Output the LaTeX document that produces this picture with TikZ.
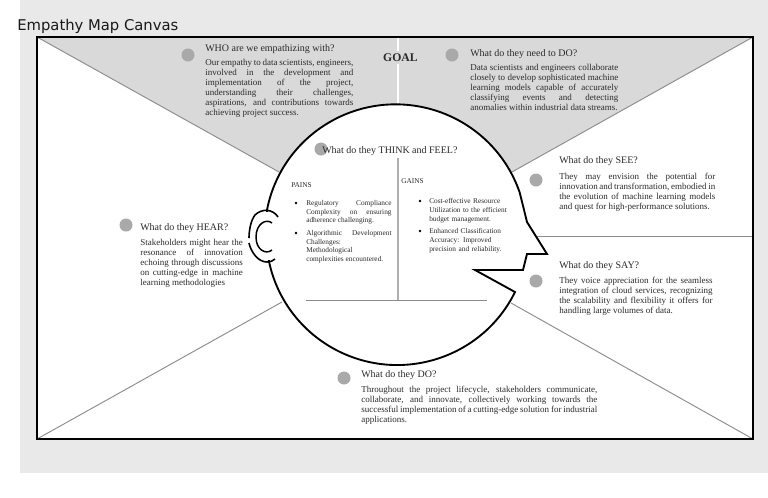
\documentclass[tikz,border=0pt]{standalone}
\usepackage{fontspec}
\setmainfont{Liberation Serif}
\newfontfamily\titlefont{DejaVu Sans}
\definecolor{canvasbg}{HTML}{E9E9E9}
\definecolor{goalgray}{HTML}{D9D9D9}
\definecolor{dotgray}{HTML}{A9A9A9}
\definecolor{linegray}{HTML}{8C8C8C}
\definecolor{inkgray}{HTML}{2A2A2A}
\begin{document}
\begin{tikzpicture}[x=0.75pt,y=-0.75pt]
    \tikzset{
        dot/.style={circle,fill=dotgray,minimum size=9.75pt,inner sep=0pt},
        heading/.style={anchor=west,inner sep=0pt,text=inkgray,font=\fontsize{7.5}{9}\selectfont},
        body/.style={anchor=north west,inner sep=0pt,align=justify,text=inkgray,font=\fontsize{6.75}{7.55}\selectfont\sloppy},
        small/.style={anchor=north west,inner sep=0pt,align=justify,text=inkgray,font=\fontsize{5.5}{6.6}\selectfont\sloppy},
        tick/.style={circle,fill=black,minimum size=2.2pt,inner sep=0pt},
        thin line/.style={draw=linegray,line width=0.7pt},
        outline/.style={draw=black,line width=1.4pt},
    }
    \useasboundingbox (0,0) rectangle (768,497);
    \fill[canvasbg] (20,0) rectangle (768,473);

    \coordinate (tl) at (37,37);
    \coordinate (tr) at (753,37);
    \coordinate (bl) at (37,439);
    \coordinate (br) at (753,439);
    \coordinate (hl) at (279,172);
    \coordinate (hr) at (512,172);
    \coordinate (ll) at (282,302);
    \coordinate (lr) at (511,303);
    \coordinate (mid) at (536,236);
    \coordinate (me) at (753,236);

    \fill[white] (tl) rectangle (br);
    \fill[goalgray] (tl) -- (tr) -- (hr) -- (398,120) -- (hl) -- cycle;
    \draw[white,line width=0.9pt] (398,37) -- (398,110);
    \draw[thin line] (tl) -- (hl);
    \draw[thin line] (tr) -- (hr);
    \draw[thin line] (bl) -- (ll);
    \draw[thin line] (br) -- (lr);
    \draw[thin line] (mid) -- (me);
    \draw[line width=1.2pt] (tl) rectangle (br);

    % head
    \draw[outline,fill=white] (515,292) arc[start angle=26,end angle=168.4,x radius=131,y radius=130]
        -- (267,210) arc[start angle=190.8,end angle=341.3,x radius=131,y radius=130]
        -- (527,222) -- (547,254) -- (527,254) -- (523,270) -- (475,270) -- cycle;
    \fill[white] (262,212) rectangle (275,260);
    \draw[outline,line width=1.2pt] (278,217) .. controls (273,209) and (262,208) .. (255,215) .. controls (251,220) and (249,230) .. (249,238);
    \draw[outline,line width=1.2pt] (249,243) .. controls (251,252) and (258,262) .. (267,262) .. controls (270,262) and (273,261) .. (275,259);
    \draw[outline,line width=1.1pt] (272,223) .. controls (266,218) and (256,224) .. (256,237) .. controls (256,250) and (266,255) .. (272,250);

    % dividers inside the head
    \draw[draw=linegray!70,line width=0.8pt] (398,158) -- (398,300);
    \draw[thin line] (306,300) -- (487,300);

    \node[anchor=center,inner sep=2pt,fill=goalgray,font=\fontsize{8.8}{10}\selectfont\bfseries,text=inkgray] (goal) at (400.5,57.5) {GOAL};
    \node[anchor=west,inner sep=0pt,text=black!90,font=\fontsize{11.1}{13}\selectfont\titlefont] (title) at (17,26) {Empathy Map Canvas};

    \node[dot] (dwho) at (188,55) {};
    \node[dot] (dneed) at (452,55) {};
    \node[dot] (dthink) at (321,149) {};
    \node[dot] (dhear) at (126,225) {};
    \node[dot] (dsee) at (536,180) {};
    \node[dot] (dsay) at (536,281) {};
    \node[dot] (ddo) at (344,378) {};

    \node[heading] (hwho) at (205,49) {WHO are we empathizing with?};
    \node[body,text width=111pt] (twho) at (205,59) {Our empathy to data scientists, engineers,\linebreak involved in the development and\linebreak implementation of the project,\linebreak understanding their challenges,\linebreak aspirations, and contributions towards\linebreak achieving project success.};

    \node[heading] (hneed) at (470,54.5) {What do they need to DO?};
    \node[body,text width=111pt] (tneed) at (470,64) {Data scientists and engineers collaborate\linebreak closely to develop sophisticated machine\linebreak learning models capable of accurately\linebreak classifying events and detecting\linebreak anomalies within industrial data streams.};

    \node[heading] (hthink) at (322,151) {What do they THINK and FEEL?};

    \node[heading] (hsee) at (559,161.5) {What do they SEE?};
    \node[body,text width=117pt] (tsee) at (559,172.7) {They may envision the potential for\linebreak innovation and transformation, embodied in\linebreak the evolution of machine learning models\linebreak and quest for high-performance solutions.};

    \node[heading] (hsay) at (559,266.5) {What do they SAY?};
    \node[body,text width=115pt] (tsay) at (559,277) {They voice appreciation for the seamless\linebreak integration of cloud services, recognizing\linebreak the scalability and flexibility it offers for\linebreak handling large volumes of data.};

    \node[heading] (hhear) at (140,228.5) {What do they HEAR?};
    \node[body,text width=77pt] (thear) at (140,238.7) {Stakeholders might hear the\linebreak resonance of innovation\linebreak echoing through discussions\linebreak on cutting-edge in machine\linebreak learning methodologies};

    \node[heading] (hdo) at (361,375) {What do they DO?};
    \node[body,text width=177pt] (tdo) at (361,385.7) {Throughout the project lifecycle, stakeholders communicate,\linebreak collaborate, and innovate, collectively working towards the\linebreak successful implementation of a cutting-edge solution for industrial\linebreak applications.};

    \node[small,anchor=west] (pains) at (291,185.5) {PAINS};
    \node[tick] (p1) at (296,203) {};
    \node[small,text width=64pt] (tp1) at (306,200) {Regulatory Compliance\linebreak Complexity on ensuring\linebreak adherence challenging.};
    \node[tick] (p2) at (296,233) {};
    \node[small,text width=64pt] (tp2) at (306,230) {Algorithmic Development\linebreak Challenges:\hfill\linebreak Methodological\hfill\linebreak complexities encountered.};

    \node[small,anchor=west] (gains) at (401,181.5) {GAINS};
    \node[tick] (g1) at (420,201) {};
    \node[small,text width=60pt,align=left] (tg1) at (429,198) {Cost-effective Resource\\Utilization to the efficient\\budget management.};
    \node[tick] (g2) at (420,231) {};
    \node[small,text width=60pt,align=left] (tg2) at (429,228) {Enhanced Classification\\Accuracy: Improved\\precision and reliability.};
\end{tikzpicture}
\end{document}
